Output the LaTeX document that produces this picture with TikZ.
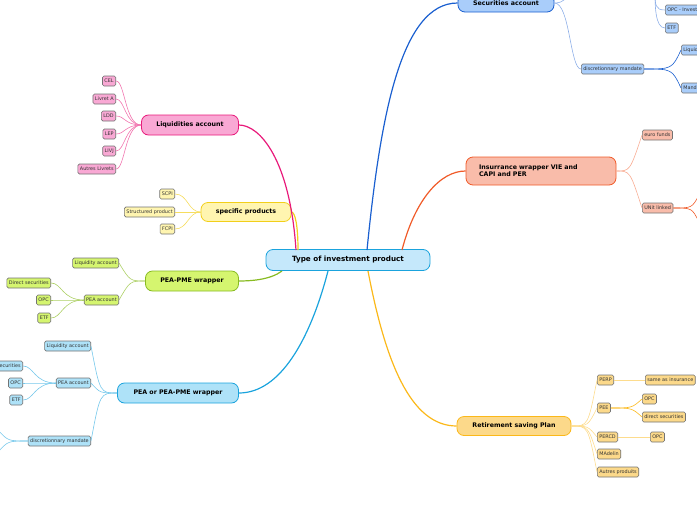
\documentclass[tikz,border=0pt]{standalone}
\usepackage{fontspec}
\setmainfont{DejaVu Sans}
\begin{document}
\begin{tikzpicture}[x=1pt,y=-1pt,
 mainbox/.style={draw,rounded corners=7pt,line width=0.8pt,font=\bfseries\fontsize{6.3}{7}\selectfont,inner xsep=8pt,anchor=center},
 leaf/.style={draw=black!55,rounded corners=1.5pt,line width=0.6pt,font=\fontsize{4.9}{5.5}\selectfont,text=black!80,inner sep=2pt,minimum height=10pt},
 br/.style={line width=1.2pt}, sb/.style={line width=0.6pt}]
\useasboundingbox (0,0) rectangle (697,520);
\definecolor{pk}{HTML}{F9A8D4}\definecolor{pkl}{HTML}{E8197A}
\definecolor{yl}{HTML}{FFF5B0}\definecolor{yll}{HTML}{F2CF1A}
\definecolor{gr}{HTML}{D5F56F}\definecolor{grl}{HTML}{88BB22}
\definecolor{bl}{HTML}{AEE2F8}\definecolor{bll}{HTML}{1AA3DD}
\definecolor{sc}{HTML}{A9CDFA}\definecolor{scl}{HTML}{1A5FD0}
\definecolor{in}{HTML}{F9BCAA}\definecolor{inl}{HTML}{F05A28}
\definecolor{rt}{HTML}{FCD98A}\definecolor{rtl}{HTML}{FBB81A}
\definecolor{ce}{HTML}{C5E8FB}

% central
\node[mainbox,fill=ce,draw=bll,minimum width=164pt,minimum height=21pt,font=\bfseries\fontsize{7.2}{8}\selectfont] (c) at (348,260) {Type of investment product};
% main nodes
\node[mainbox,fill=sc,draw=scl,minimum width=96pt,minimum height=18pt] (sa) at (506,3) {Securities account};
\node[mainbox,fill=in,draw=inl,minimum width=150pt,minimum height=28pt,align=left,text width=124pt] (ins) at (541,171) {Insurrance wrapper VIE and\\CAPI and PER};
\node[mainbox,fill=rt,draw=rtl,minimum width=114pt,minimum height=19pt] (rs) at (514,426) {Retirement saving Plan};
\node[mainbox,fill=bl,draw=bll,minimum width=121pt,minimum height=20pt] (pea) at (178,393) {PEA or PEA-PME wrapper};
\node[mainbox,fill=gr,draw=grl,minimum width=93pt,minimum height=20pt] (pme) at (192,281) {PEA-PME wrapper};
\node[mainbox,fill=yl,draw=yll,minimum width=90pt,minimum height=19pt] (sp) at (246,212) {specific products};
\node[mainbox,fill=pk,draw=pkl,minimum width=97pt,minimum height=20pt] (liq) at (190,125) {Liquidities account};

% central branches
\draw[br,scl] (367,250) .. controls (380,120) and (400,3) .. (sa.west);
\draw[br,inl] (402,250) .. controls (415,200) and (440,171) .. (ins.west);
\draw[br,rtl] (368,271) .. controls (385,360) and (410,426) .. (rs.west);
\draw[br,bll] (328,271) .. controls (310,340) and (280,393) .. (pea.east);
\draw[br,grl] (282,271) .. controls (270,280) and (250,281) .. (pme.east);
\draw[br,yll] (298,250) .. controls (298,225) and (295,212) .. (sp.east);
\draw[br,pkl] (296,250) .. controls (290,160) and (260,125) .. (liq.east);

% liquidities
\foreach \n/\t/\y in {l1/CEL/81,l2/Livret A/99,l3/LDD/116,l4/LEP/134,l5/LIVJ/151,l6/Autres Livrets/169}{
 \node[leaf,fill=pk,anchor=east] (\n) at (116,\y) {\t};
 \draw[sb,pkl!60] (liq.west) .. controls (125,125) and (125,\y) .. (\n.east);}
% specific
\foreach \n/\t/\y in {s1/SCPI/194,s2/Structured product/212,s3/FCPI/229}{
 \node[leaf,fill=yl,anchor=east] (\n) at (175,\y) {\t};
 \draw[sb,yll!70] (sp.west) .. controls (188,212) and (188,\y) .. (\n.east);}
% PEA-PME
\node[leaf,fill=gr,anchor=east] (g1) at (119,263) {Liquidity account};
\node[leaf,fill=gr,anchor=east] (g2) at (119,300) {PEA account};
\foreach \n in {g1,g2}{\draw[sb,grl!70] (pme.west) .. controls (130,281) and (130,281) .. (\n.east);}
\foreach \n/\t/\y in {g3/Direct securities/283,g4/OPC/300,g5/ETF/318}{
 \node[leaf,fill=gr,anchor=east] (\n) at (51,\y) {\t};
 \draw[sb,grl!70] (g2.west) .. controls (62,300) and (62,\y) .. (\n.east);}
% PEA or PEA-PME
\node[leaf,fill=bl,anchor=east] (b1) at (91,346) {Liquidity account};
\node[leaf,fill=bl,anchor=east] (b2) at (91,383) {PEA account};
\node[leaf,fill=bl,anchor=east] (b3) at (91,441) {discretionnary mandate};
\foreach \n in {b1,b2,b3}{\draw[sb,bll!60] (pea.west) .. controls (100,393) and (100,393) .. (\n.east);}
\foreach \n/\t/\y in {b4/Direct securities/366,b5/OPC/383,b6/ETF/400}{
 \node[leaf,fill=bl,anchor=east] (\n) at (23,\y) {\t};
 \draw[sb,bll!60] (b2.west) .. controls (34,383) and (34,\y) .. (\n.east);}
\coordinate (bx1) at (-2,430); \coordinate (bx2) at (-2,452);
\foreach \n in {bx1,bx2}{\draw[sb,bll!60] (b3.west) .. controls (8,441) and (8,441) .. (\n);}
% securities
\node[leaf,fill=sc,anchor=west] (a1) at (665,10) {OPC - Investment funds};
\node[leaf,fill=sc,anchor=west] (a2) at (665,28) {ETF};
\node[leaf,fill=sc,anchor=west] (a3) at (581,69) {discretionnary mandate};
\coordinate (ax) at (655,-10);
\draw[sb,scl!50] (ax) .. controls (655,5) and (655,10) .. (a1.west);
\draw[sb,scl!50] (ax) .. controls (655,5) and (655,28) .. (a2.west);
\coordinate (sx) at (575,-8);
\draw[sb,scl!50] (sa.east) .. controls (565,3) and (565,-3) .. (sx);
\draw[sb,scl!50] (sa.east) .. controls (570,3) and (570,69) .. (a3.west);
\node[leaf,fill=sc,anchor=west] (a4) at (681,50) {Liquidity account};
\node[leaf,fill=sc,anchor=west] (a5) at (681,88) {Mandate};
\foreach \n in {a4,a5}{\draw[sb,scl] (a3.east) .. controls (672,69) and (672,69) .. (\n.west);}
% insurance
\node[leaf,fill=in,anchor=west] (i1) at (642,135) {euro funds};
\node[leaf,fill=in,anchor=west] (i2) at (642,208) {UNit linked};
\foreach \n in {i1,i2}{\draw[sb,inl!50] (ins.east) .. controls (630,171) and (630,171) .. (\n.west);}
\coordinate (ix1) at (699,195); \coordinate (ix2) at (699,222);
\foreach \n in {ix1,ix2}{\draw[sb,inl] (i2.east) .. controls (692,208) and (692,208) .. (\n);}
% retirement
\foreach \n/\t/\y in {r1/PERP/380,r2/PEE/408,r3/PERCD/437,r4/MAdelin/454,r5/Autres produits/472}{
 \node[leaf,fill=rt,anchor=west] (\n) at (597,\y) {\t};
 \draw[sb,rtl!50] (rs.east) .. controls (588,426) and (588,426) .. (\n.west);}
\node[leaf,fill=rt,anchor=west] (r6) at (645,380) {same as insurance};
\draw[sb,rtl!50] (r1) -- (r6);
\node[leaf,fill=rt,anchor=west] (r7) at (642,399) {OPC};
\node[leaf,fill=rt,anchor=west] (r8) at (642,417) {direct securities};
\foreach \n in {r7,r8}{\draw[sb,rtl] (r2.east) .. controls (632,408) and (632,408) .. (\n.west);}
\node[leaf,fill=rt,anchor=west] (r9) at (650,437) {OPC};
\draw[sb,rtl!50] (r3) -- (r9);
\end{tikzpicture}
\end{document}
